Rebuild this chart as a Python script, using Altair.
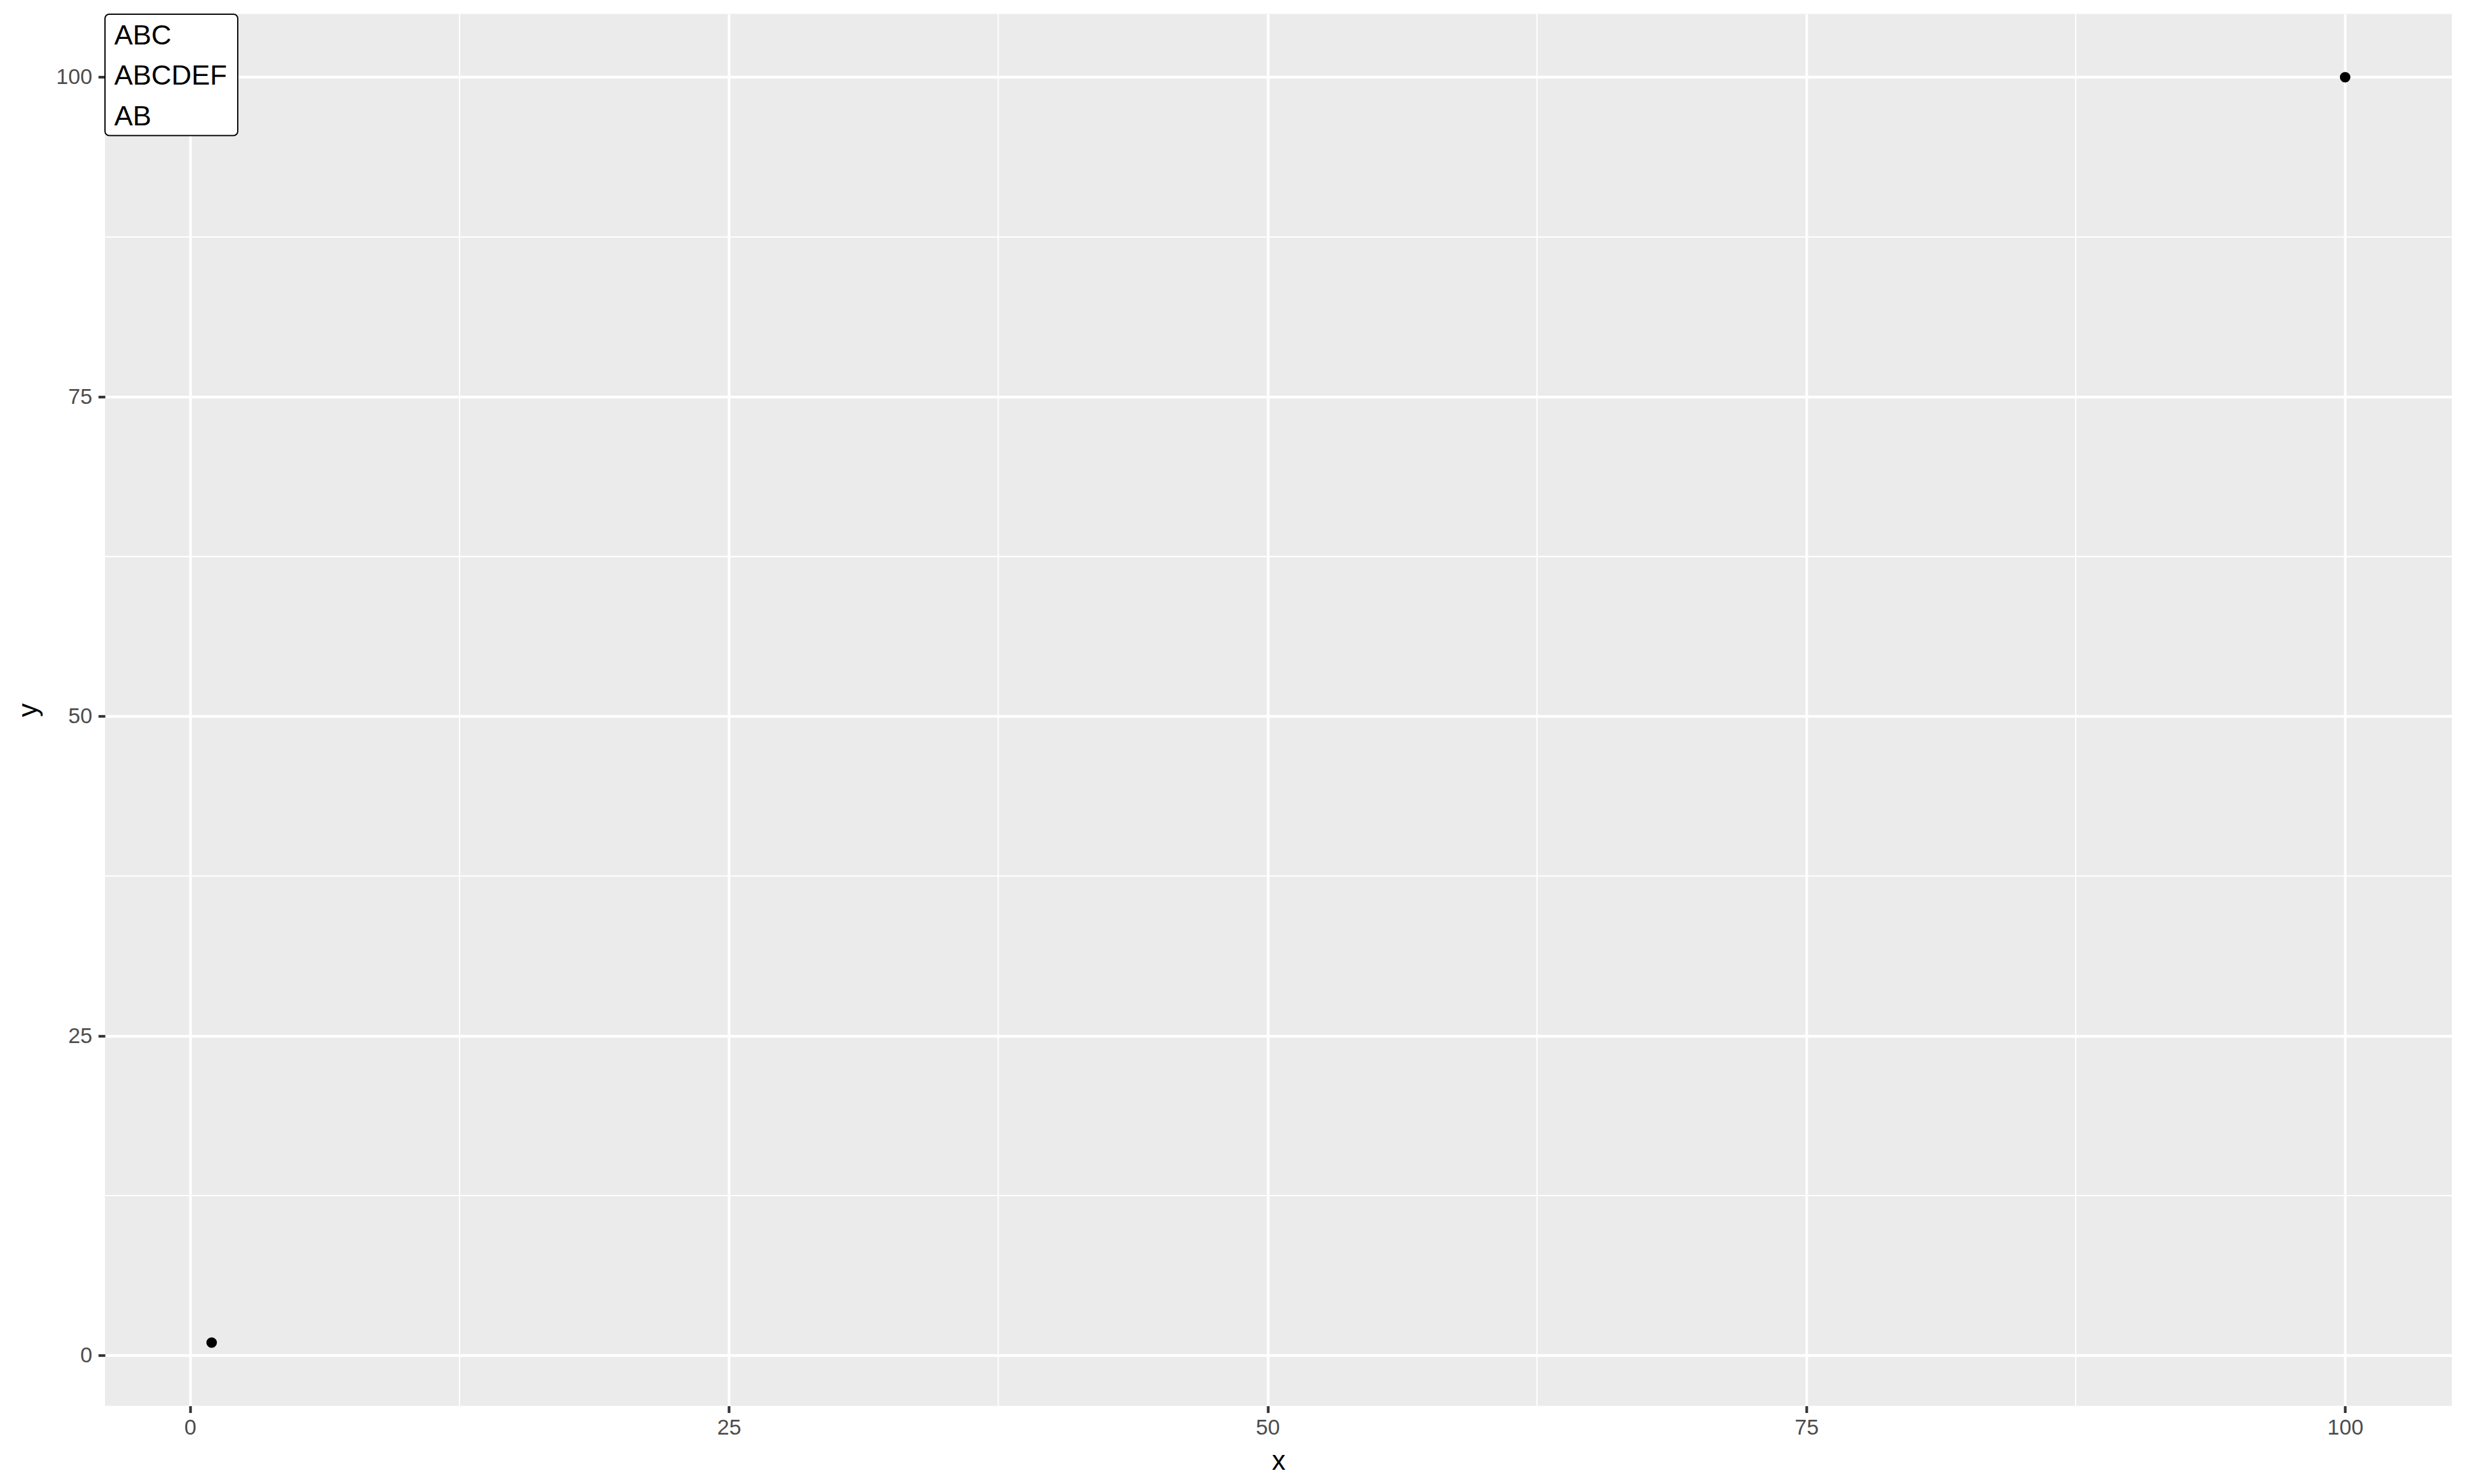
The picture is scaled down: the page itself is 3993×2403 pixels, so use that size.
import altair as alt
import pandas as pd

# data
x_vals = [1, 100]
y_vals = [1, 100]
label_lines = ["ABC", "ABCDEF", "AB"]
major_breaks = [0, 25, 50, 75, 100]
minor_breaks = [12.5, 37.5, 62.5, 87.5]
x_domain = [-3.95, 104.95]
y_domain = [-3.95, 104.95]

pts = pd.DataFrame({"x": x_vals, "y": y_vals})
minor = pd.DataFrame({"v": minor_breaks})
lab = pd.DataFrame({"label": ["\n".join(label_lines)]})

FONT = "Liberation Sans"
W, H = 3800, 2254

xs = alt.Scale(domain=x_domain, nice=False, zero=False)
ys = alt.Scale(domain=y_domain, nice=False, zero=False)

xaxis = alt.Axis(values=major_breaks, title="x", titlePadding=15, labelPadding=7)
yaxis = alt.Axis(values=major_breaks, title="y", titlePadding=22, labelPadding=10)

minor_x = alt.Chart(minor).mark_rule(color="white", strokeWidth=2.1).encode(
    x=alt.X("v:Q", scale=xs, axis=xaxis)
)
minor_y = alt.Chart(minor).mark_rule(color="white", strokeWidth=2.1).encode(
    y=alt.Y("v:Q", scale=ys, axis=yaxis)
)

points = alt.Chart(pts).mark_circle(size=292, color="black", opacity=1).encode(
    x=alt.X("x:Q", scale=xs, axis=xaxis),
    y=alt.Y("y:Q", scale=ys, axis=yaxis),
)

box = alt.Chart(lab).mark_rect(
    fill="white", stroke="black", strokeWidth=2, cornerRadius=7
).encode(
    x=alt.value(0), x2=alt.value(215), y=alt.value(0.5), y2=alt.value(197)
)

text = alt.Chart(lab).mark_text(
    align="left", baseline="alphabetic", font=FONT, fontSize=45,
    color="black", lineBreak="\n", lineHeight=65.5
).encode(
    x=alt.value(15), y=alt.value(49.2), text="label:N"
)

chart = alt.layer(minor_x, minor_y, points, box, text).properties(
    width=W, height=H,
    background="white",
    autosize=alt.AutoSizeParams(type="none"),
    padding={"left": 162, "top": 14.5, "right": 15, "bottom": 120},
).configure_view(
    fill="#EBEBEB", stroke=None
).configure_axis(
    domain=False,
    grid=True, gridColor="white", gridWidth=4.3,
    ticks=True, tickColor="#333333", tickWidth=4.3, tickSize=11,
    labelColor="#4D4D4D", labelFont=FONT, labelFontSize=35,
    titleColor="black", titleFont=FONT, titleFontSize=44, titleFontWeight="normal",
)

chart.save("out.html", embed_options={"renderer": "svg", "actions": False})
